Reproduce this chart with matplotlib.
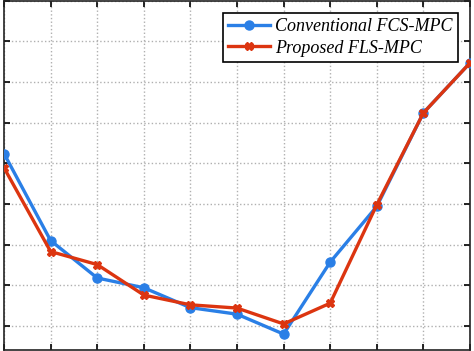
import numpy as np
import matplotlib.pyplot as plt

# sample index (axis is cropped, no labels visible)
steps = np.arange(11)
conventional = [5.24, 3.10, 2.18, 1.94, 1.45, 1.29, 0.80, 2.57, 3.94, 6.24, 7.47]
proposed = [4.89, 2.83, 2.51, 1.76, 1.52, 1.44, 1.05, 1.56, 3.98, 6.24, 7.47]
labels = ['Conventional FCS-MPC', 'Proposed FLS-MPC']

plt.rcParams['font.family'] = ['Liberation Serif', 'DejaVu Serif']

fig = plt.figure(figsize=(4.74, 3.51), dpi=100)
ax = fig.add_axes([0.0085, 0.003, 0.983, 0.995])

ax.plot(steps, conventional, '-o', color='#2a7fe6', lw=2.4, ms=6.5,
        label=labels[0], zorder=3)
ax.plot(steps, proposed, '-X', color='#dc3510', lw=2.4, ms=6,
        label=labels[1], zorder=4)

ax.set_xlim(0, 10)
ax.set_ylim(0.41, 9.0)
ax.set_xticks(steps)
ax.set_yticks(np.arange(1, 10))
ax.tick_params(direction='in', length=4, width=1.2, top=True, right=True,
               labelbottom=False, labelleft=False)
ax.grid(True, ls=':', color='#b0b0b0', lw=1.0)
for s in ax.spines.values():
    s.set_linewidth(1.2)
    s.set_color('#222222')

leg = ax.legend(loc='upper right', bbox_to_anchor=(0.974, 0.966),
                prop={'style': 'italic', 'size': 13},
                fancybox=False, edgecolor='black', framealpha=1,
                handlelength=2.3, handletextpad=0.3, borderpad=0.3,
                labelspacing=0.25, borderaxespad=0)
leg.get_frame().set_linewidth(1.2)

fig.savefig('out.png', dpi=100)
